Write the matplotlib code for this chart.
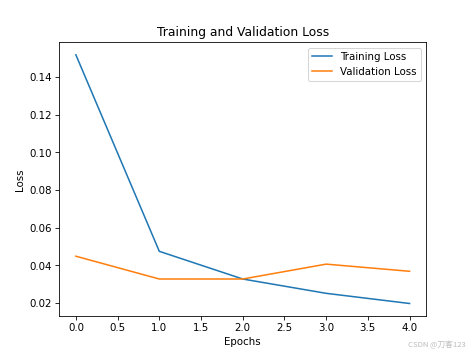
import matplotlib
matplotlib.use("Agg")
import matplotlib.pyplot as plt

epochs = [0, 1, 2, 3, 4]
train_loss = [0.1518, 0.0475, 0.0328, 0.0252, 0.0198]
val_loss = [0.0449, 0.0328, 0.0328, 0.0407, 0.0369]

fig = plt.figure(figsize=(6.4, 4.8), dpi=74)
plt.plot(epochs, train_loss, label="Training Loss")
plt.plot(epochs, val_loss, label="Validation Loss")
plt.title("Training and Validation Loss")
plt.xlabel("Epochs")
plt.ylabel("Loss")
plt.legend()
fig.text(0.983, 0.018, "CSDN @刀客123", ha="right", va="bottom", fontsize=7.5,
         color="#bbbbbb", family=["Noto Sans CJK SC", "DejaVu Sans"])
fig.savefig("out.png", dpi=74)
